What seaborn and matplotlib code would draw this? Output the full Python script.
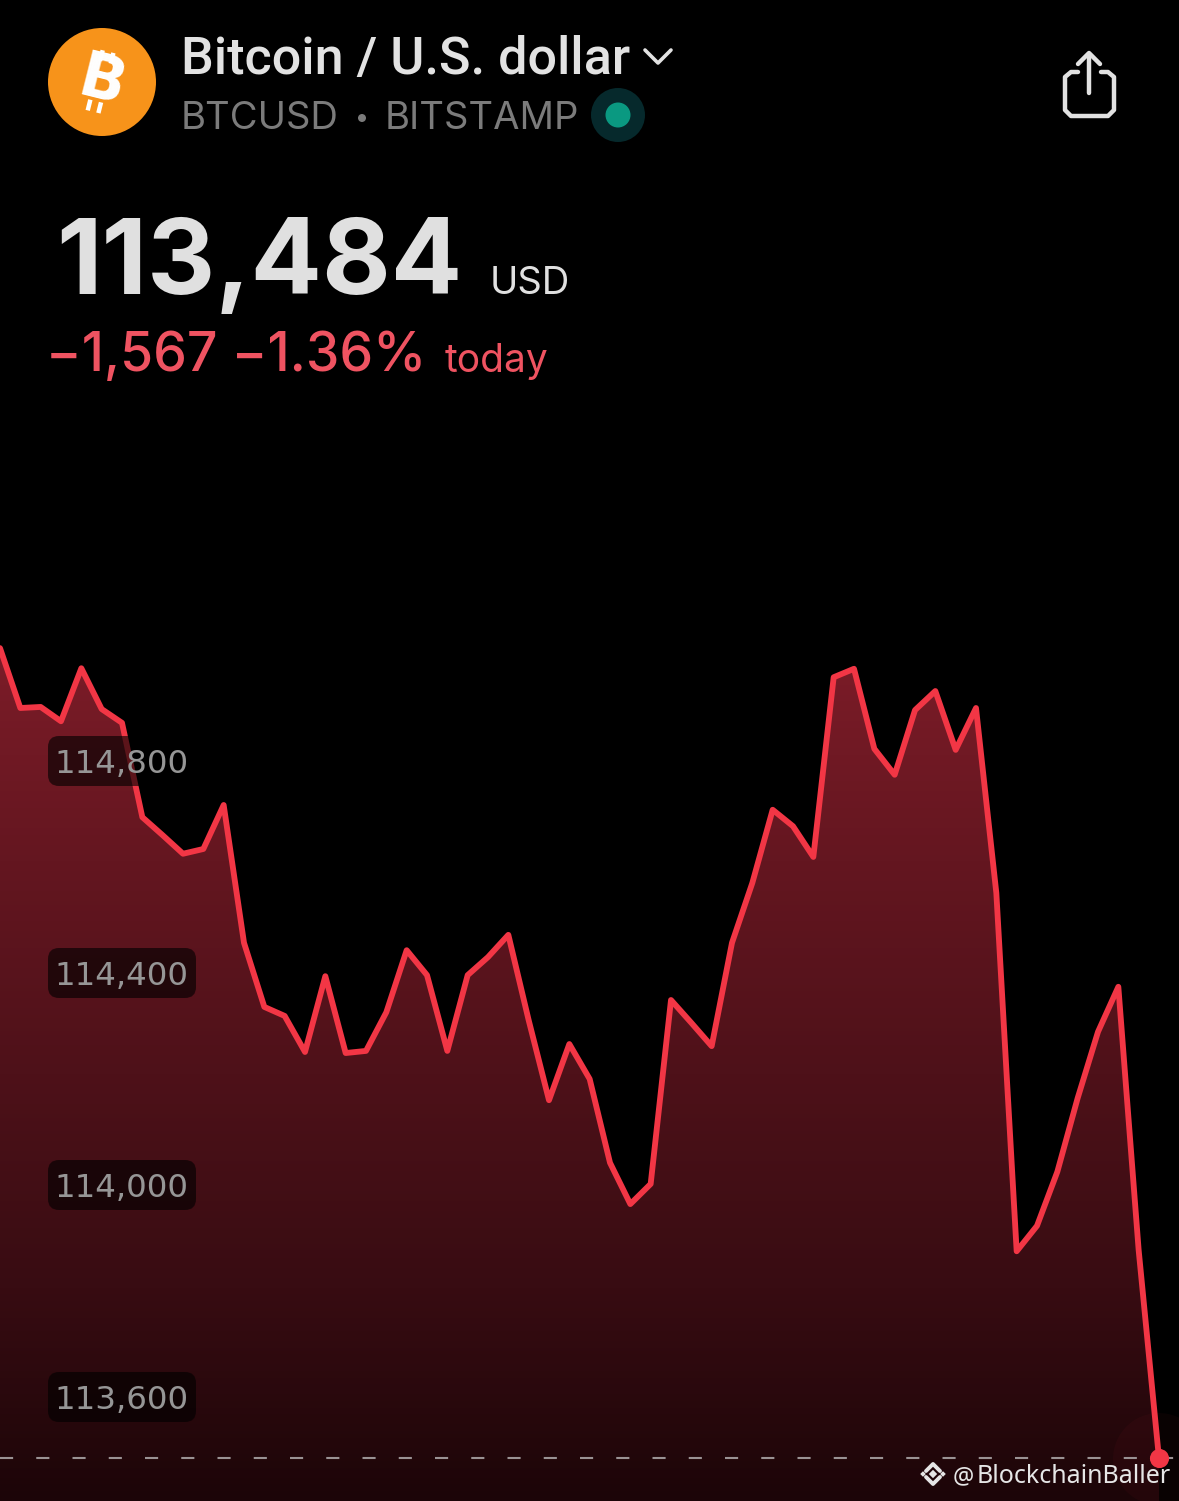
import numpy as np
import pandas as pd
import seaborn as sns
import matplotlib
matplotlib.use("Agg")
import matplotlib.pyplot as plt
from matplotlib.colors import LinearSegmentedColormap
from matplotlib.patches import FancyBboxPatch, Circle, Polygon
from matplotlib.transforms import Affine2D

prices = [115013, 114900, 114902, 114875, 114975, 114898, 114872, 114694, 114660, 114625,
          114634, 114717, 114457, 114336, 114319, 114251, 114394, 114249, 114253, 114326,
          114443, 114396, 114253, 114396, 114430, 114472, 114311, 114160, 114266, 114200,
          114042, 113964, 114002, 114349, 114306, 114262, 114457, 114570, 114708, 114677,
          114619, 114958, 114974, 114823, 114774, 114896, 114932, 114821, 114900, 114551,
          113875, 113923, 114025, 114164, 114289, 114374, 113877, 113484]
steps = list(range(len(prices)))
tick_values = [114800, 114400, 114000, 113600]
tick_labels = ["114,800", "114,400", "114,000", "113,600"]
last_price = 113484

title = "Bitcoin / U.S. dollar"
symbol = "BTCUSD"
exchange = "BITSTAMP"
price_text = "113,484"
currency = "USD"
change_text = "\u22121,567 \u22121.36%"
today = "today"
watermark = "BlockchainBaller"

sns.set_theme(style="dark", rc={"figure.facecolor": "black", "axes.facecolor": "black"})
plt.rcParams["font.family"] = ["Inter", "DejaVu Sans"]

W, H = 1179, 1501
fig = plt.figure(figsize=(W / 100, H / 100), dpi=100, facecolor="black")
ax = fig.add_axes([0, 0, 1, 1])
ax.set_axisbelow(False)
px = Affine2D().scale(1, -1).translate(0, H)

df = pd.DataFrame({"step": steps, "price": prices})
RED = "#f23645"

xlim = (0, 57 * W / 1159)
y_per_px = 400 / 212
ylim = (114800 - (H - 761) * y_per_px, 114800 + 761 * y_per_px)

poly = ax.fill_between(df["step"], df["price"], ylim[0], facecolor="none", edgecolor="none")
cmap = LinearSegmentedColormap.from_list(
    "area", ["#1c0508", "#380c12", "#4e1119", "#641620", "#7c1c28"]
)
grad = np.linspace(1, 0, 256).reshape(-1, 1)
im = ax.imshow(grad, extent=[xlim[0], xlim[1], ylim[0], 115013], aspect="auto",
               cmap=cmap, origin="upper", zorder=1)
im.set_clip_path(poly.get_paths()[0], transform=ax.transData)

ax.add_patch(Circle((1159, 1459), 46, transform=px, facecolor=RED, alpha=0.04,
                    edgecolor="none", zorder=1.5))

ax.axhline(last_price, color="#9a9294", lw=1.5, dashes=(6.3, 11.1), zorder=1.6)

sns.lineplot(data=df, x="step", y="price", ax=ax, color=RED, lw=4.2, zorder=2,
             errorbar=None, estimator=None, solid_joinstyle="round")
ax.scatter([steps[-1]], [prices[-1]], s=190, color=RED, zorder=2.2, linewidths=0, clip_on=False)

ax.set_xlim(*xlim)
ax.set_ylim(*ylim)
ax.set_xlabel("")
ax.set_ylabel("")
ax.set_xticks([])
ax.grid(False)
for s in ax.spines.values():
    s.set_visible(False)

# axis labels sit inside the plot, on dark pills
ax.set_yticks(tick_values)
ax.set_yticklabels(tick_labels)
ax.tick_params(axis="y", length=0, pad=-136, labelsize=23.4, labelcolor="#969696")
for lab in ax.get_yticklabels():
    lab.set_fontfamily(["DejaVu Sans"])
for pill_y in (761, 973, 1185, 1397):
    ax.add_patch(FancyBboxPatch((48, pill_y - 25), 148, 50, boxstyle="round,pad=0,rounding_size=11",
                                transform=px, facecolor="black", alpha=0.62, edgecolor="none",
                                zorder=2.4, clip_on=False))


def label(x, y, s, size, color, weight="normal", family=("Inter", "DejaVu Sans"), **kw):
    return ax.text(x, y, s, transform=px, fontsize=size, color=color, weight=weight,
                   family=list(family), va=kw.pop("va", "baseline"), ha=kw.pop("ha", "left"),
                   zorder=5, clip_on=False, **kw)


# header
ax.add_patch(Circle((102, 82), 54, transform=px, facecolor="#f7931a", edgecolor="none", zorder=4))
# the bitcoin sign is in no installed family: a heavy tilted B with its two pairs of strokes
tilt = Affine2D().rotate_deg_around(102, 82, 14) + px
label(102, 82, "B", 47, "white", weight="black", family=("Roboto",), ha="center", va="center",
      rotation=-14, rotation_mode="anchor")
for sx in (95, 106):
    for y0, y1 in ((51, 62), (102, 113)):
        ax.plot([sx, sx], [y0, y1], transform=tilt, color="white", lw=3.2, zorder=5,
                solid_capstyle="butt")
label(181, 74, title, 37.5, "#e2e2e2", weight="medium", family=("Roboto", "DejaVu Sans"))
ax.plot([645, 658, 671], [50, 63, 50], transform=px, color="#e2e2e2", lw=2.6, zorder=5,
        solid_capstyle="round", solid_joinstyle="round")
label(181, 129, symbol, 27.5, "#7b7b7b")
ax.add_patch(Circle((362, 118), 4, transform=px, facecolor="#7b7b7b", edgecolor="none", zorder=5))
label(385, 129, exchange, 27.5, "#7b7b7b")
ax.add_patch(Circle((618, 115), 27, transform=px, facecolor="#06292c", edgecolor="none", zorder=4))
ax.add_patch(Circle((618, 115), 12.5, transform=px, facecolor="#0a9981", edgecolor="none", zorder=5))

# share icon
ax.plot([1078, 1071, 1065, 1065, 1071, 1108, 1114, 1114, 1108, 1101],
        [72, 72, 77, 110, 116, 116, 110, 77, 72, 72],
        transform=px, color="#e2e2e2", lw=3.2, zorder=5, solid_joinstyle="round",
        solid_capstyle="round")
ax.plot([1089, 1089], [54, 93], transform=px, color="#e2e2e2", lw=3.2, zorder=5, solid_capstyle="round")
ax.plot([1078, 1089, 1100], [64, 53, 64], transform=px, color="#e2e2e2", lw=3.2, zorder=5,
        solid_capstyle="round", solid_joinstyle="round")

# price block
label(56, 294, price_text, 76, "#e0e0e0", weight="bold")
label(490, 294, currency, 27.5, "#e0e0e0")
label(46, 371, change_text, 38.5, "#ef5361", weight="medium")
label(445, 372, today, 28, "#ef5361")

# watermark
WM = "#e6e6e6"
for (cx, cy, r) in [(933, 1474, 4.2), (923, 1474, 2.8), (943, 1474, 2.8)]:
    ax.add_patch(Polygon([(cx - r, cy), (cx, cy - r), (cx + r, cy), (cx, cy + r)], transform=px,
                         facecolor=WM, edgecolor="none", zorder=6))
ax.plot([926, 933, 940], [1471, 1464, 1471], transform=px, color=WM, lw=2.8, zorder=6)
ax.plot([926, 933, 940], [1477, 1484, 1477], transform=px, color=WM, lw=2.8, zorder=6)
label(953, 1483, "@", 17, WM, family=("Noto Sans", "DejaVu Sans"))
label(977, 1483, watermark, 18, WM, family=("Noto Sans", "DejaVu Sans"))

fig.savefig("out.png", dpi=100, facecolor="black")
